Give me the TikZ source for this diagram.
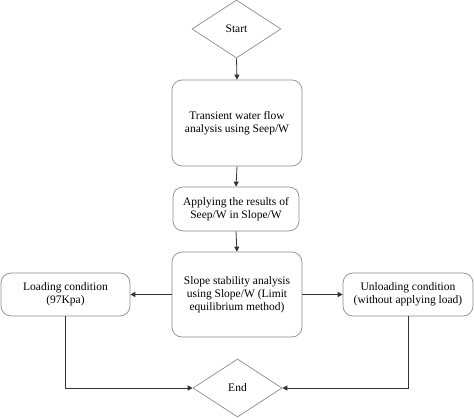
\documentclass[tikz,border=0pt]{standalone}
\usepackage{fontspec}
\setmainfont{Liberation Serif}
\usetikzlibrary{shapes.geometric,arrows.meta}
\begin{document}
\begin{tikzpicture}[x=1pt,y=1pt,
  box/.style={draw=black!45,line width=0.7pt,rounded corners=10pt,align=center,font=\fontsize{11.5}{13}\selectfont,inner sep=0pt},
  dia/.style={draw=black!45,line width=0.7pt,diamond,minimum width=89pt,minimum height=58pt,aspect=1.53,inner sep=0pt,font=\fontsize{11.5}{13}\selectfont},
  conn/.style={draw=black!80,line width=0.8pt},
  arr/.style={conn,-{Triangle[length=5pt,width=5pt]}}]
\useasboundingbox (0,0) rectangle (474,-418);
\node[dia] (start) at (236.5,-29) {Start};
\node[box,minimum width=130pt,minimum height=86pt] (flow) at (237,-123) {Transient water flow\\analysis using Seep/W};
\node[box,minimum width=126pt,minimum height=44pt] (apply) at (236,-209) {Applying the results of\\Seep/W in Slope/W};
\node[box,minimum width=130pt,minimum height=85pt] (slope) at (237,-294.5) {Slope stability analysis\\using Slope/W (Limit\\equilibrium method)};
\node[box,minimum width=129pt,minimum height=43pt] (load) at (65.5,-294.5) {Loading condition\\(97Kpa)};
\node[box,minimum width=130pt,minimum height=43pt] (unload) at (408,-294.5) {Unloading condition\\(without applying load)};
\node[dia] (end) at (237.5,-388) {End};
\draw[arr] (start.south) -- (flow.north);
\draw[arr] (flow.south) -- (apply.north);
\draw[arr] (apply.south) -- (slope.north);
\draw[arr] (slope.west) -- (load.east);
\draw[arr] (slope.east) -- (unload.east -| unload.west);
\draw[arr] (load.south) |- (end.west);
\draw[arr] (unload.south) |- (end.east);
\end{tikzpicture}
\end{document}
